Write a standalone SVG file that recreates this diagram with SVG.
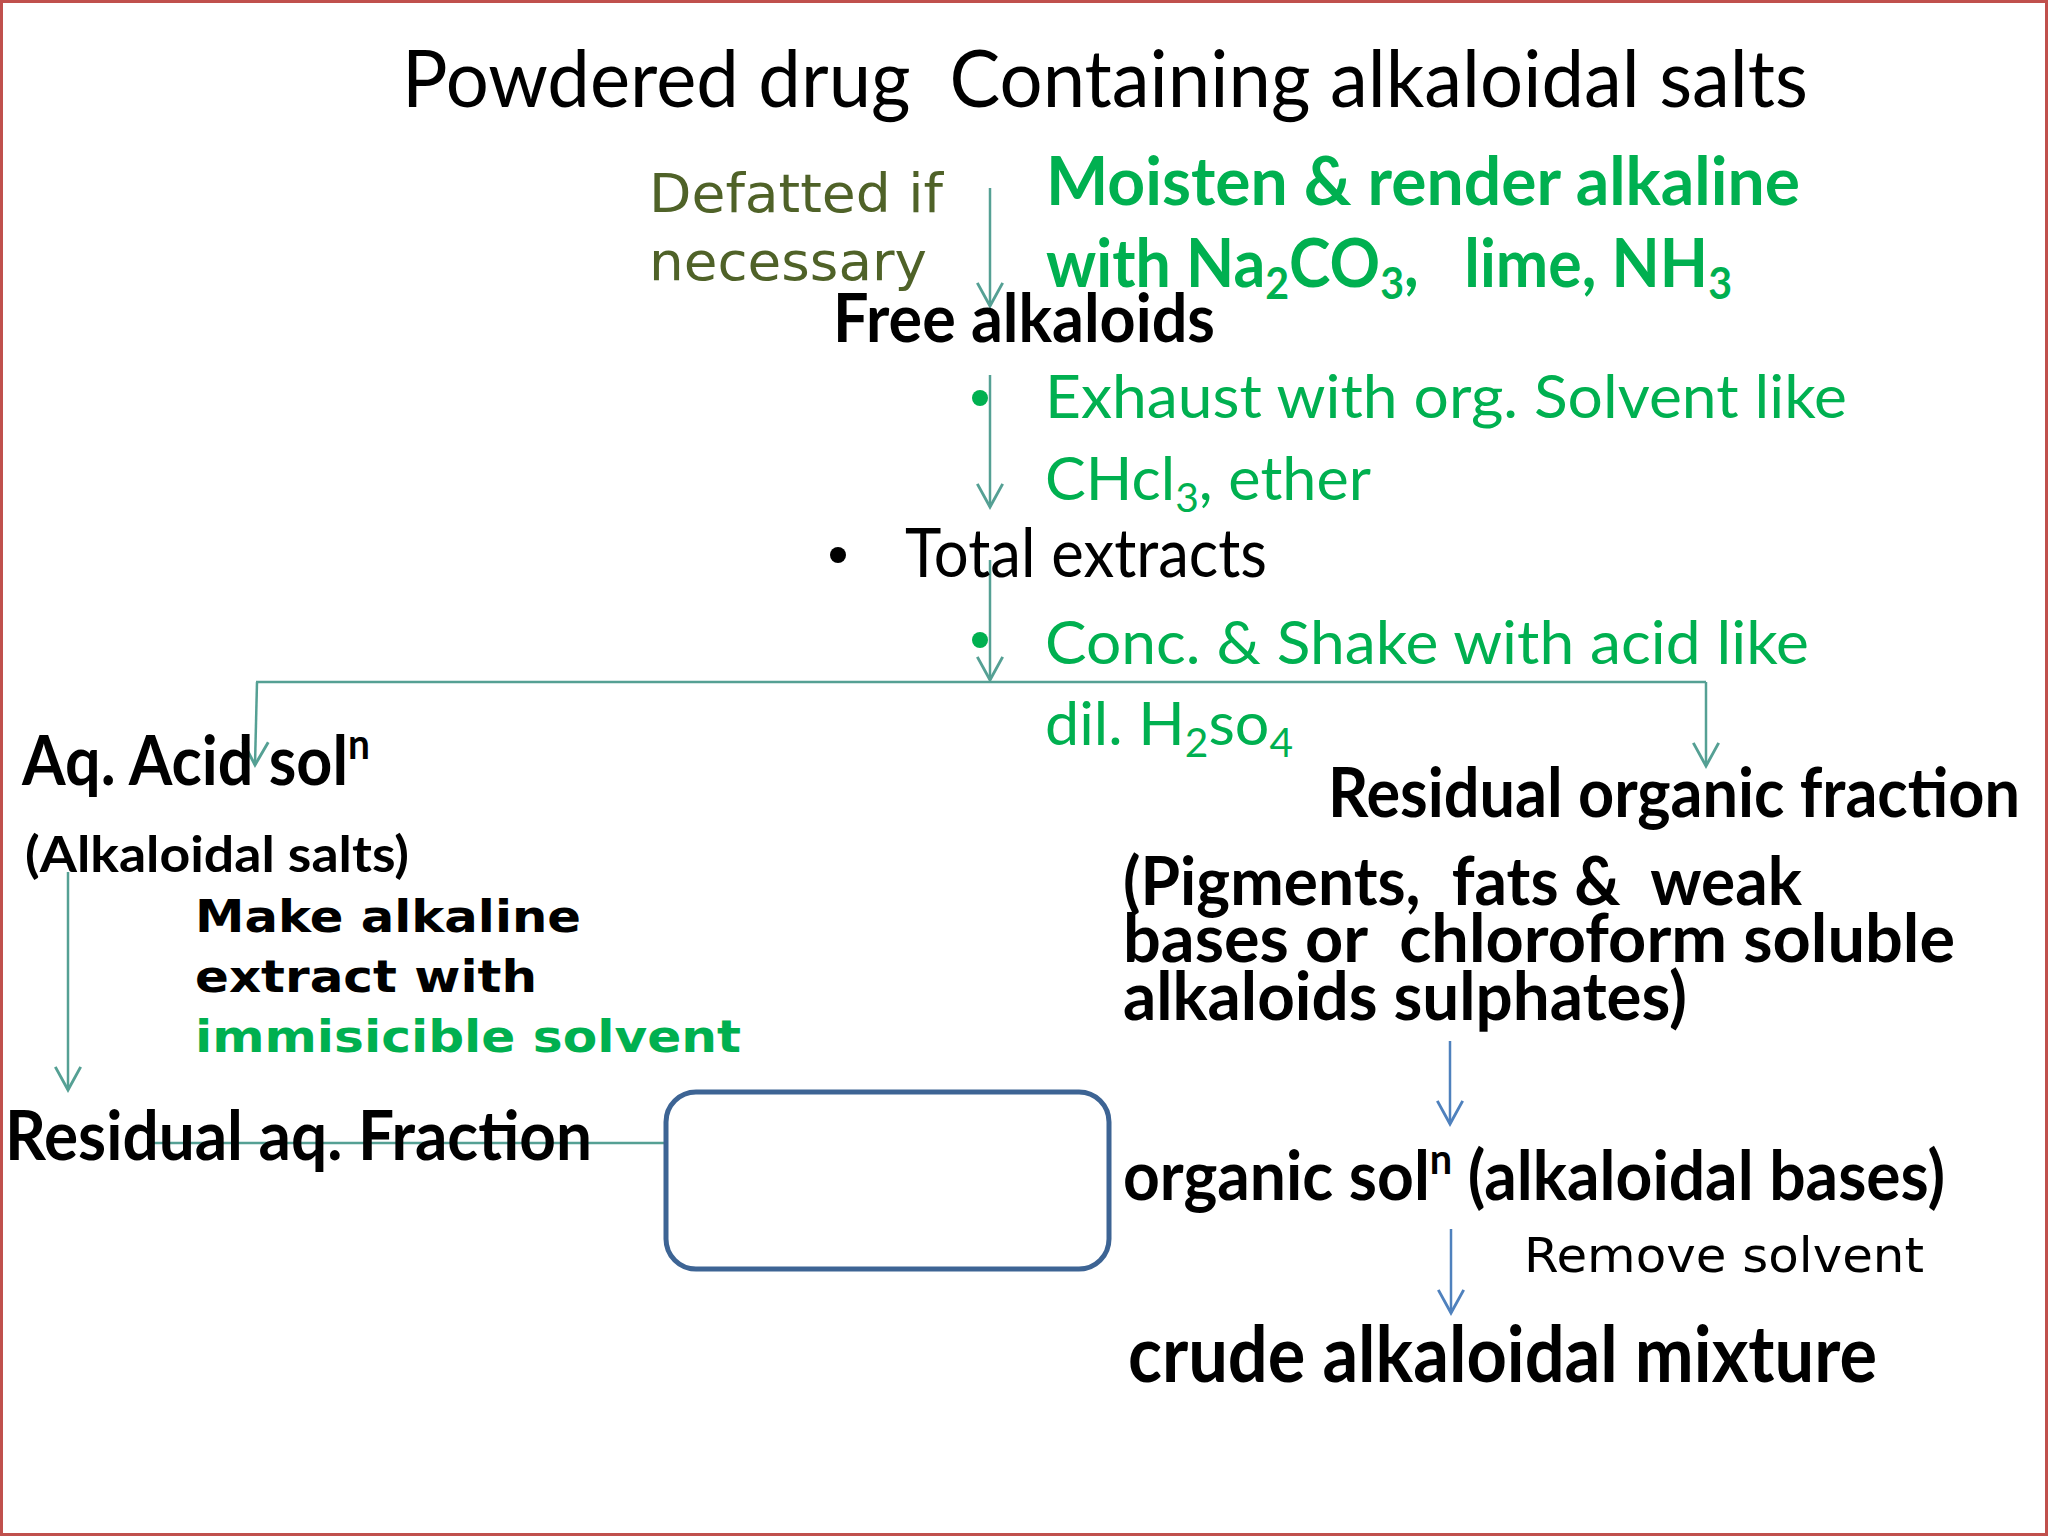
<svg xmlns="http://www.w3.org/2000/svg" width="2048" height="1536" viewBox="0 0 2048 1536">
<defs>
<style>
.cal{font-family:Lato,"Open Sans","Liberation Sans",sans-serif;white-space:pre}
.ver{font-family:"DejaVu Sans","Liberation Sans",sans-serif;white-space:pre}
.blk{fill:#000}
.grn{fill:#00B050}
.olv{fill:#4F6228}
.b{font-weight:bold}
.teal{stroke:#55A094;stroke-width:2.5;fill:none}
.blue{stroke:#4F81BD;stroke-width:2.5;fill:none}
</style>
<marker id="aT" markerUnits="userSpaceOnUse" markerWidth="30" markerHeight="30" viewBox="-22 -13 26 26" refX="0" refY="0" orient="auto">
<path d="M-20,-11 L0,0 L-20,11" fill="none" stroke="#55A094" stroke-width="2.5"/>
</marker>
<marker id="aB" markerUnits="userSpaceOnUse" markerWidth="30" markerHeight="30" viewBox="-22 -13 26 26" refX="0" refY="0" orient="auto">
<path d="M-20,-11 L0,0 L-20,11" fill="none" stroke="#4F81BD" stroke-width="2.5"/>
</marker>
</defs>
<rect x="0" y="0" width="2048" height="1536" fill="#ffffff"/>
<rect x="1.5" y="1.5" width="2045" height="1533" fill="none" stroke="#C0504D" stroke-width="3"/>

<g id="connectors">
<line class="teal" x1="990" y1="188" x2="990" y2="306" marker-end="url(#aT)"/>
<line class="teal" x1="990" y1="375" x2="990" y2="507" marker-end="url(#aT)"/>
<line class="teal" x1="990" y1="560" x2="990" y2="680" marker-end="url(#aT)"/>
<polyline class="teal" points="256,682 1706,682"/>
<line class="teal" x1="257" y1="682" x2="255" y2="765" marker-end="url(#aT)"/>
<line class="teal" x1="1706" y1="682" x2="1706" y2="766" marker-end="url(#aT)"/>
<line class="teal" x1="68" y1="872" x2="68" y2="1090" marker-end="url(#aT)"/>
<line class="teal" x1="150" y1="1143" x2="666" y2="1143"/>
<line class="blue" x1="1450" y1="1041" x2="1450" y2="1124" marker-end="url(#aB)"/>
<line class="blue" x1="1451" y1="1229" x2="1451" y2="1313" marker-end="url(#aB)"/>
</g>

<g id="title">
<text class="cal blk" x="402" y="107" font-size="80" textLength="1406" lengthAdjust="spacingAndGlyphs">Powdered drug  Containing alkaloidal salts</text>
</g>

<g id="defatted">
<text class="ver olv" x="649" y="212" font-size="54" textLength="294" lengthAdjust="spacingAndGlyphs">Defatted if</text>
<text class="ver olv" x="649" y="280" font-size="54" textLength="278" lengthAdjust="spacingAndGlyphs">necessary</text>
</g>

<g id="moisten">
<text class="cal grn b" x="1046" y="205" font-size="67" textLength="754" lengthAdjust="spacingAndGlyphs">Moisten &amp; render alkaline</text>
<text class="cal grn b" x="1046" y="287" font-size="67" textLength="686" lengthAdjust="spacingAndGlyphs">with Na<tspan font-size="44" dy="12">2</tspan><tspan dy="-12">CO</tspan><tspan font-size="44" dy="12">3</tspan><tspan dy="-12">,   lime, NH</tspan><tspan font-size="44" dy="12">3</tspan></text>
</g>

<g id="free-alkaloids">
<text class="cal blk b" x="833" y="342" font-size="67" textLength="382" lengthAdjust="spacingAndGlyphs">Free alkaloids</text>
</g>

<g id="exhaust">
<circle cx="980" cy="398" r="8" fill="#00B050"/>
<text class="cal grn" x="1045" y="418" font-size="60" textLength="802" lengthAdjust="spacingAndGlyphs">Exhaust with org. Solvent like</text>
<text class="cal grn" x="1045" y="500" font-size="60" textLength="326" lengthAdjust="spacingAndGlyphs">CHcl<tspan font-size="40" dy="12">3</tspan><tspan dy="-12">, ether</tspan></text>
</g>

<g id="total-extracts">
<circle cx="838" cy="555" r="8" fill="#000"/>
<text class="cal blk" x="905" y="577" font-size="67" textLength="362" lengthAdjust="spacingAndGlyphs">Total extracts</text>
</g>

<g id="conc">
<circle cx="980" cy="640" r="8" fill="#00B050"/>
<text class="cal grn" x="1045" y="664" font-size="60" textLength="764" lengthAdjust="spacingAndGlyphs">Conc. &amp; Shake with acid like</text>
<text class="cal grn" x="1045" y="745" font-size="60" textLength="248" lengthAdjust="spacingAndGlyphs">dil. H<tspan font-size="40" dy="12">2</tspan><tspan dy="-12">so</tspan><tspan font-size="40" dy="12">4</tspan></text>
</g>

<g id="aq-acid">
<text class="cal blk b" x="22" y="785" font-size="68" textLength="348" lengthAdjust="spacingAndGlyphs">Aq. Acid sol<tspan font-size="42" dy="-26">n</tspan></text>
<text class="cal blk b" x="25" y="872" font-size="50" textLength="384" lengthAdjust="spacingAndGlyphs">(Alkaloidal salts)</text>
</g>

<g id="make-alkaline">
<text class="ver blk b" x="195" y="932" font-size="44" textLength="386" lengthAdjust="spacingAndGlyphs">Make alkaline</text>
<text class="ver blk b" x="195" y="992" font-size="44" textLength="342" lengthAdjust="spacingAndGlyphs">extract with</text>
<text class="ver grn b" x="195" y="1052" font-size="44" textLength="546" lengthAdjust="spacingAndGlyphs">immisicible solvent</text>
</g>

<g id="residual-aq">
<text class="cal blk b" x="5" y="1160" font-size="68" textLength="587" lengthAdjust="spacingAndGlyphs">Residual aq. Fraction</text>
</g>

<g id="empty-box">
<rect x="666" y="1092" width="443" height="177" rx="30" ry="30" fill="#ffffff" stroke="#3D6494" stroke-width="5"/>
</g>

<g id="residual-organic">
<text class="cal blk b" x="1328" y="817" font-size="68" textLength="692" lengthAdjust="spacingAndGlyphs">Residual organic fraction</text>
<text class="cal blk b" x="1123" y="905" font-size="66" textLength="679" lengthAdjust="spacingAndGlyphs">(Pigments,  fats &amp;  weak</text>
<text class="cal blk b" x="1123" y="962" font-size="66" textLength="832" lengthAdjust="spacingAndGlyphs">bases or  chloroform soluble</text>
<text class="cal blk b" x="1123" y="1020" font-size="66" textLength="564" lengthAdjust="spacingAndGlyphs">alkaloids sulphates)</text>
</g>

<g id="organic-soln">
<text class="cal blk b" x="1123" y="1200" font-size="68" textLength="822" lengthAdjust="spacingAndGlyphs">organic sol<tspan font-size="42" dy="-26">n</tspan><tspan dy="26"> (alkaloidal bases)</tspan></text>
</g>

<g id="remove-solvent">
<text class="ver blk" x="1524" y="1272" font-size="48" textLength="400" lengthAdjust="spacingAndGlyphs">Remove solvent</text>
</g>

<g id="crude">
<text class="cal blk b" x="1128" y="1382" font-size="78" textLength="749" lengthAdjust="spacingAndGlyphs">crude alkaloidal mixture</text>
</g>
</svg>
